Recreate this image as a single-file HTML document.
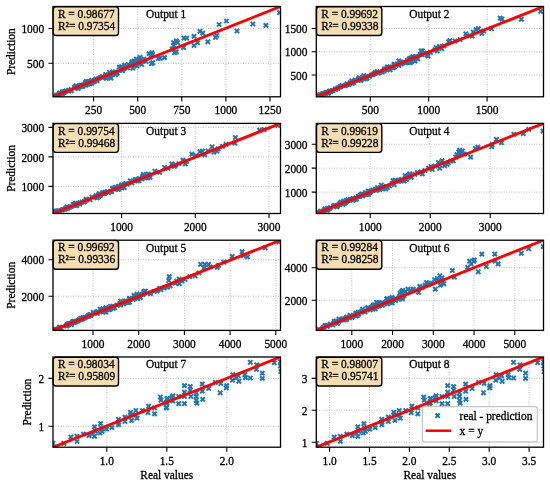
<!DOCTYPE html>
<html lang="en"><head><meta charset="utf-8"><title>Real vs prediction</title>
<style>html,body{margin:0;padding:0;background:#fff}body{width:550px;height:483px;overflow:hidden}svg{display:block}svg text{stroke:#000;stroke-width:0.28px}</style>
</head><body>
<svg width="550" height="483" viewBox="0 0 550 483" font-family="'Liberation Serif', 'Times New Roman', serif" font-size="11.4px" fill="#000">
<defs><g id="m"><path d="M-2.15-2.15L2.15 2.15M-2.15 2.15L2.15-2.15" stroke="#1f77b4" stroke-width="2.0" stroke-linecap="butt" fill="none"/></g>
<clipPath id="c0"><rect x="53.0" y="6.5" width="227.5" height="90.3"/></clipPath>
<clipPath id="c1"><rect x="316.3" y="6.5" width="227.2" height="90.3"/></clipPath>
<clipPath id="c2"><rect x="53.0" y="123.4" width="227.5" height="90.1"/></clipPath>
<clipPath id="c3"><rect x="316.3" y="123.4" width="227.2" height="90.1"/></clipPath>
<clipPath id="c4"><rect x="53.0" y="240.2" width="227.5" height="90.19999999999999"/></clipPath>
<clipPath id="c5"><rect x="316.3" y="240.2" width="227.2" height="90.19999999999999"/></clipPath>
<clipPath id="c6"><rect x="53.0" y="357.0" width="227.5" height="90.19999999999999"/></clipPath>
<clipPath id="c7"><rect x="316.3" y="357.0" width="227.2" height="90.19999999999999"/></clipPath>
</defs>
<rect width="550" height="483" fill="#fff"/>
<g id="ax1">
<path d="M93.60 6.5V96.8M137.70 6.5V96.8M181.80 6.5V96.8M225.90 6.5V96.8M270.00 6.5V96.8M53.0 28.55H280.5M53.0 63.30H280.5" stroke="#b4b4b4" stroke-width="0.9" stroke-dasharray="1 1.5" fill="none" clip-path="url(#c0)"/>
<g clip-path="url(#c0)"><use href="#m" x="59.6" y="93.2"/><use href="#m" x="85.1" y="84.6"/><use href="#m" x="86.3" y="81.6"/><use href="#m" x="77.2" y="87.9"/><use href="#m" x="56.6" y="95.2"/><use href="#m" x="95.4" y="80.1"/><use href="#m" x="96.1" y="79.1"/><use href="#m" x="87.9" y="83.9"/><use href="#m" x="62.3" y="93.3"/><use href="#m" x="68.8" y="91.0"/><use href="#m" x="81.5" y="86.2"/><use href="#m" x="96.5" y="79.3"/><use href="#m" x="78.3" y="88.3"/><use href="#m" x="60.3" y="93.2"/><use href="#m" x="82.5" y="85.2"/><use href="#m" x="71.0" y="89.7"/><use href="#m" x="88.2" y="82.1"/><use href="#m" x="91.3" y="81.3"/><use href="#m" x="94.6" y="80.4"/><use href="#m" x="82.0" y="86.5"/><use href="#m" x="94.1" y="81.7"/><use href="#m" x="97.1" y="80.6"/><use href="#m" x="80.7" y="85.4"/><use href="#m" x="76.1" y="86.0"/><use href="#m" x="66.2" y="90.8"/><use href="#m" x="68.6" y="90.1"/><use href="#m" x="91.9" y="80.4"/><use href="#m" x="87.6" y="84.1"/><use href="#m" x="90.0" y="83.6"/><use href="#m" x="64.5" y="91.6"/><use href="#m" x="91.6" y="83.3"/><use href="#m" x="87.9" y="81.9"/><use href="#m" x="76.4" y="86.2"/><use href="#m" x="59.7" y="94.2"/><use href="#m" x="83.8" y="85.0"/><use href="#m" x="87.3" y="82.6"/><use href="#m" x="85.1" y="84.3"/><use href="#m" x="80.1" y="86.3"/><use href="#m" x="63.0" y="92.5"/><use href="#m" x="82.6" y="86.5"/><use href="#m" x="87.1" y="82.3"/><use href="#m" x="53.6" y="96.4"/><use href="#m" x="58.2" y="95.0"/><use href="#m" x="85.8" y="85.2"/><use href="#m" x="62.5" y="91.8"/><use href="#m" x="71.2" y="90.9"/><use href="#m" x="85.5" y="82.6"/><use href="#m" x="74.7" y="87.2"/><use href="#m" x="77.8" y="86.8"/><use href="#m" x="89.3" y="81.6"/><use href="#m" x="92.7" y="81.9"/><use href="#m" x="64.3" y="92.4"/><use href="#m" x="57.3" y="95.6"/><use href="#m" x="58.6" y="95.2"/><use href="#m" x="56.0" y="96.1"/><use href="#m" x="77.6" y="86.7"/><use href="#m" x="74.6" y="87.7"/><use href="#m" x="61.8" y="93.9"/><use href="#m" x="79.4" y="86.3"/><use href="#m" x="62.5" y="93.4"/><use href="#m" x="115.4" y="74.6"/><use href="#m" x="138.7" y="61.2"/><use href="#m" x="114.9" y="72.0"/><use href="#m" x="106.3" y="78.5"/><use href="#m" x="139.4" y="60.8"/><use href="#m" x="109.6" y="75.3"/><use href="#m" x="111.0" y="78.1"/><use href="#m" x="121.4" y="66.9"/><use href="#m" x="108.0" y="75.7"/><use href="#m" x="110.7" y="73.9"/><use href="#m" x="124.8" y="65.0"/><use href="#m" x="132.1" y="61.8"/><use href="#m" x="112.9" y="72.0"/><use href="#m" x="128.3" y="64.5"/><use href="#m" x="106.0" y="76.1"/><use href="#m" x="123.8" y="68.6"/><use href="#m" x="112.9" y="73.4"/><use href="#m" x="135.0" y="62.8"/><use href="#m" x="98.6" y="78.5"/><use href="#m" x="119.3" y="67.1"/><use href="#m" x="105.6" y="74.5"/><use href="#m" x="107.2" y="76.6"/><use href="#m" x="105.1" y="77.4"/><use href="#m" x="109.6" y="72.3"/><use href="#m" x="124.1" y="67.7"/><use href="#m" x="122.4" y="68.3"/><use href="#m" x="122.4" y="70.7"/><use href="#m" x="133.8" y="66.1"/><use href="#m" x="122.2" y="69.7"/><use href="#m" x="117.3" y="73.4"/><use href="#m" x="127.5" y="67.9"/><use href="#m" x="100.4" y="77.4"/><use href="#m" x="116.6" y="72.8"/><use href="#m" x="102.8" y="77.1"/><use href="#m" x="102.1" y="76.8"/><use href="#m" x="121.7" y="68.8"/><use href="#m" x="219.1" y="24.5"/><use href="#m" x="226.4" y="21.0"/><use href="#m" x="252.8" y="24.0"/><use href="#m" x="265.9" y="25.4"/><use href="#m" x="237.0" y="31.0"/><use href="#m" x="279.6" y="12.6"/><use href="#m" x="200.0" y="31.3"/><use href="#m" x="202.7" y="33.1"/><use href="#m" x="194.0" y="36.4"/><use href="#m" x="215.5" y="37.3"/><use href="#m" x="216.9" y="35.5"/><use href="#m" x="207.8" y="41.8"/><use href="#m" x="197.6" y="42.7"/><use href="#m" x="194.0" y="45.5"/><use href="#m" x="184.0" y="38.2"/><use href="#m" x="186.7" y="38.2"/><use href="#m" x="183.6" y="47.6"/><use href="#m" x="173.6" y="42.7"/><use href="#m" x="176.4" y="40.9"/><use href="#m" x="177.6" y="42.7"/><use href="#m" x="173.6" y="45.5"/><use href="#m" x="172.2" y="49.1"/><use href="#m" x="174.5" y="52.7"/><use href="#m" x="176.4" y="51.8"/><use href="#m" x="164.5" y="57.6"/><use href="#m" x="160.0" y="58.2"/><use href="#m" x="158.2" y="58.5"/><use href="#m" x="149.1" y="53.6"/><use href="#m" x="151.8" y="52.7"/><use href="#m" x="150.9" y="55.5"/><use href="#m" x="152.7" y="54.5"/><use href="#m" x="152.7" y="62.7"/><use href="#m" x="151.5" y="63.6"/><use href="#m" x="140.0" y="57.3"/><use href="#m" x="136.4" y="59.1"/><use href="#m" x="141.8" y="64.5"/><use href="#m" x="139.1" y="63.6"/><use href="#m" x="131.8" y="62.7"/><use href="#m" x="132.7" y="68.2"/><use href="#m" x="130.0" y="65.5"/><use href="#m" x="144.0" y="59.0"/><use href="#m" x="146.0" y="61.5"/><use href="#m" x="134.0" y="61.0"/><use href="#m" x="137.0" y="66.0"/></g>
<path d="M53.0 96.8L280.5 6.5" stroke="#ff0000" stroke-width="2.9" fill="none" clip-path="url(#c0)"/>
<path d="M93.60 96.8v4.6M137.70 96.8v4.6M181.80 96.8v4.6M225.90 96.8v4.6M270.00 96.8v4.6M53.0 28.55h-4.6M53.0 63.30h-4.6" stroke="#000" stroke-width="1.1" fill="none"/>
<rect x="53.0" y="6.5" width="227.5" height="90.3" fill="none" stroke="#000" stroke-width="1.3"/>
<text transform="translate(93.60 114.20) scale(1 1.07)" text-anchor="middle">250</text>
<text transform="translate(137.70 114.20) scale(1 1.07)" text-anchor="middle">500</text>
<text transform="translate(181.80 114.20) scale(1 1.07)" text-anchor="middle">750</text>
<text transform="translate(225.90 114.20) scale(1 1.07)" text-anchor="middle">1000</text>
<text transform="translate(270.00 114.20) scale(1 1.07)" text-anchor="middle">1250</text>
<text transform="translate(44.20 33.15) scale(1 1.07)" text-anchor="end">1000</text>
<text transform="translate(44.20 67.90) scale(1 1.07)" text-anchor="end">500</text>
<text transform="translate(15.20 51.65) rotate(-90) scale(1 1.07)" text-anchor="middle">Prediction</text>
<text transform="translate(166.15 17.80) scale(1 1.07)" text-anchor="middle">Output 1</text>
<rect x="53.20" y="6.70" width="65.3" height="28.8" rx="2.8" fill="#f5deb3" stroke="#000" stroke-width="1.4"/>
<text transform="translate(57.90 17.70) scale(1 1.07)">R = 0.98677</text>
<text transform="translate(57.90 29.70) scale(1 1.07)">R²= 0.97354</text>
</g>
<g id="ax2">
<path d="M370.30 6.5V96.8M428.70 6.5V96.8M487.10 6.5V96.8M316.3 28.50H543.5M316.3 51.75H543.5M316.3 75.00H543.5" stroke="#b4b4b4" stroke-width="0.9" stroke-dasharray="1 1.5" fill="none" clip-path="url(#c1)"/>
<g clip-path="url(#c1)"><use href="#m" x="378.4" y="73.2"/><use href="#m" x="415.0" y="61.1"/><use href="#m" x="366.2" y="76.6"/><use href="#m" x="340.0" y="87.0"/><use href="#m" x="347.1" y="84.4"/><use href="#m" x="420.0" y="54.5"/><use href="#m" x="323.8" y="93.9"/><use href="#m" x="398.5" y="64.7"/><use href="#m" x="355.4" y="80.5"/><use href="#m" x="384.4" y="69.9"/><use href="#m" x="359.4" y="79.9"/><use href="#m" x="348.8" y="84.7"/><use href="#m" x="328.1" y="92.5"/><use href="#m" x="387.3" y="66.9"/><use href="#m" x="410.5" y="58.2"/><use href="#m" x="361.5" y="79.4"/><use href="#m" x="359.5" y="79.6"/><use href="#m" x="365.9" y="77.0"/><use href="#m" x="373.4" y="74.0"/><use href="#m" x="391.5" y="67.1"/><use href="#m" x="317.3" y="96.2"/><use href="#m" x="320.0" y="95.2"/><use href="#m" x="335.6" y="89.5"/><use href="#m" x="389.4" y="68.0"/><use href="#m" x="394.1" y="64.6"/><use href="#m" x="367.0" y="77.8"/><use href="#m" x="369.5" y="76.3"/><use href="#m" x="409.2" y="58.9"/><use href="#m" x="390.1" y="67.4"/><use href="#m" x="325.3" y="93.2"/><use href="#m" x="319.7" y="94.8"/><use href="#m" x="409.8" y="62.7"/><use href="#m" x="405.8" y="62.9"/><use href="#m" x="399.0" y="65.4"/><use href="#m" x="402.7" y="62.7"/><use href="#m" x="335.4" y="88.9"/><use href="#m" x="400.9" y="62.9"/><use href="#m" x="364.0" y="75.7"/><use href="#m" x="411.3" y="61.6"/><use href="#m" x="410.7" y="62.3"/><use href="#m" x="352.3" y="83.5"/><use href="#m" x="389.9" y="68.2"/><use href="#m" x="353.7" y="82.6"/><use href="#m" x="404.3" y="62.2"/><use href="#m" x="326.0" y="93.3"/><use href="#m" x="338.1" y="87.9"/><use href="#m" x="328.3" y="93.3"/><use href="#m" x="350.4" y="83.0"/><use href="#m" x="326.5" y="92.1"/><use href="#m" x="317.6" y="95.5"/><use href="#m" x="383.9" y="70.8"/><use href="#m" x="377.1" y="71.6"/><use href="#m" x="402.2" y="62.7"/><use href="#m" x="386.8" y="69.8"/><use href="#m" x="375.3" y="72.4"/><use href="#m" x="416.4" y="56.7"/><use href="#m" x="347.1" y="83.8"/><use href="#m" x="359.1" y="78.0"/><use href="#m" x="322.1" y="94.5"/><use href="#m" x="332.1" y="90.7"/><use href="#m" x="329.2" y="91.4"/><use href="#m" x="364.1" y="78.6"/><use href="#m" x="387.3" y="67.7"/><use href="#m" x="355.2" y="80.1"/><use href="#m" x="387.1" y="68.0"/><use href="#m" x="374.6" y="73.5"/><use href="#m" x="350.3" y="82.7"/><use href="#m" x="342.0" y="85.5"/><use href="#m" x="362.8" y="77.5"/><use href="#m" x="320.6" y="95.2"/><use href="#m" x="321.6" y="95.5"/><use href="#m" x="363.2" y="78.1"/><use href="#m" x="387.5" y="68.3"/><use href="#m" x="417.8" y="59.0"/><use href="#m" x="398.9" y="60.9"/><use href="#m" x="414.8" y="58.7"/><use href="#m" x="322.5" y="93.8"/><use href="#m" x="345.6" y="85.6"/><use href="#m" x="382.1" y="71.9"/><use href="#m" x="407.9" y="62.4"/><use href="#m" x="322.9" y="94.0"/><use href="#m" x="384.5" y="68.8"/><use href="#m" x="390.1" y="69.8"/><use href="#m" x="352.5" y="82.2"/><use href="#m" x="394.3" y="67.1"/><use href="#m" x="360.8" y="80.3"/><use href="#m" x="344.6" y="85.6"/><use href="#m" x="401.3" y="64.0"/><use href="#m" x="326.6" y="92.8"/><use href="#m" x="333.2" y="90.5"/><use href="#m" x="394.3" y="64.1"/><use href="#m" x="412.4" y="57.4"/><use href="#m" x="364.2" y="78.4"/><use href="#m" x="371.5" y="75.0"/><use href="#m" x="392.7" y="67.8"/><use href="#m" x="340.5" y="86.7"/><use href="#m" x="379.6" y="72.6"/><use href="#m" x="415.7" y="56.7"/><use href="#m" x="412.8" y="56.8"/><use href="#m" x="330.1" y="91.0"/><use href="#m" x="328.1" y="92.9"/><use href="#m" x="392.4" y="67.0"/><use href="#m" x="422.4" y="50.9"/><use href="#m" x="359.3" y="77.9"/><use href="#m" x="330.6" y="91.6"/><use href="#m" x="373.0" y="74.6"/><use href="#m" x="421.6" y="54.6"/><use href="#m" x="393.5" y="67.1"/><use href="#m" x="357.8" y="79.8"/><use href="#m" x="407.4" y="60.3"/><use href="#m" x="414.5" y="57.9"/><use href="#m" x="351.8" y="80.8"/><use href="#m" x="319.8" y="95.1"/><use href="#m" x="366.4" y="79.0"/><use href="#m" x="337.7" y="88.5"/><use href="#m" x="540.7" y="11.3"/><use href="#m" x="521.3" y="19.3"/><use href="#m" x="500.2" y="18.2"/><use href="#m" x="502.0" y="19.1"/><use href="#m" x="491.5" y="28.7"/><use href="#m" x="481.9" y="33.3"/><use href="#m" x="483.7" y="31.0"/><use href="#m" x="478.4" y="28.7"/><use href="#m" x="476.1" y="29.7"/><use href="#m" x="472.2" y="36.1"/><use href="#m" x="473.2" y="32.0"/><use href="#m" x="465.8" y="33.8"/><use href="#m" x="467.0" y="35.6"/><use href="#m" x="460.1" y="39.5"/><use href="#m" x="448.6" y="41.8"/><use href="#m" x="449.8" y="40.7"/><use href="#m" x="444.1" y="45.9"/><use href="#m" x="441.8" y="48.7"/><use href="#m" x="439.5" y="46.4"/><use href="#m" x="436.0" y="47.5"/><use href="#m" x="434.9" y="49.8"/><use href="#m" x="437.2" y="51.0"/><use href="#m" x="426.9" y="54.9"/><use href="#m" x="421.1" y="51.0"/><use href="#m" x="428.0" y="56.2"/><use href="#m" x="424.0" y="53.0"/><use href="#m" x="430.5" y="52.5"/><use href="#m" x="455.0" y="41.0"/></g>
<path d="M316.3 96.8L543.5 6.5" stroke="#ff0000" stroke-width="2.9" fill="none" clip-path="url(#c1)"/>
<path d="M370.30 96.8v4.6M428.70 96.8v4.6M487.10 96.8v4.6M316.3 28.50h-4.6M316.3 51.75h-4.6M316.3 75.00h-4.6" stroke="#000" stroke-width="1.1" fill="none"/>
<rect x="316.3" y="6.5" width="227.2" height="90.3" fill="none" stroke="#000" stroke-width="1.3"/>
<text transform="translate(370.30 114.20) scale(1 1.07)" text-anchor="middle">500</text>
<text transform="translate(428.70 114.20) scale(1 1.07)" text-anchor="middle">1000</text>
<text transform="translate(487.10 114.20) scale(1 1.07)" text-anchor="middle">1500</text>
<text transform="translate(307.50 33.10) scale(1 1.07)" text-anchor="end">1500</text>
<text transform="translate(307.50 56.35) scale(1 1.07)" text-anchor="end">1000</text>
<text transform="translate(307.50 79.60) scale(1 1.07)" text-anchor="end">500</text>
<text transform="translate(429.30 17.80) scale(1 1.07)" text-anchor="middle">Output 2</text>
<rect x="316.50" y="6.70" width="65.3" height="28.8" rx="2.8" fill="#f5deb3" stroke="#000" stroke-width="1.4"/>
<text transform="translate(321.20 17.70) scale(1 1.07)">R = 0.99692</text>
<text transform="translate(321.20 29.70) scale(1 1.07)">R²= 0.99338</text>
</g>
<g id="ax3">
<path d="M121.60 123.4V213.5M195.30 123.4V213.5M269.00 123.4V213.5M53.0 127.40H280.5M53.0 156.90H280.5M53.0 186.40H280.5" stroke="#b4b4b4" stroke-width="0.9" stroke-dasharray="1 1.5" fill="none" clip-path="url(#c2)"/>
<g clip-path="url(#c2)"><use href="#m" x="67.5" y="207.5"/><use href="#m" x="122.7" y="185.4"/><use href="#m" x="112.5" y="188.8"/><use href="#m" x="108.4" y="192.6"/><use href="#m" x="57.2" y="211.1"/><use href="#m" x="103.8" y="193.1"/><use href="#m" x="139.0" y="179.3"/><use href="#m" x="75.2" y="204.0"/><use href="#m" x="65.5" y="208.9"/><use href="#m" x="112.6" y="188.3"/><use href="#m" x="96.2" y="195.7"/><use href="#m" x="104.9" y="192.9"/><use href="#m" x="67.2" y="207.2"/><use href="#m" x="118.6" y="186.3"/><use href="#m" x="77.1" y="204.5"/><use href="#m" x="120.3" y="187.5"/><use href="#m" x="102.9" y="193.7"/><use href="#m" x="92.0" y="197.1"/><use href="#m" x="141.8" y="178.8"/><use href="#m" x="110.6" y="191.4"/><use href="#m" x="114.8" y="187.7"/><use href="#m" x="96.1" y="196.9"/><use href="#m" x="118.4" y="189.3"/><use href="#m" x="115.5" y="187.3"/><use href="#m" x="99.0" y="196.3"/><use href="#m" x="114.2" y="188.8"/><use href="#m" x="138.0" y="179.3"/><use href="#m" x="125.7" y="183.5"/><use href="#m" x="111.7" y="191.6"/><use href="#m" x="105.2" y="192.1"/><use href="#m" x="148.3" y="174.2"/><use href="#m" x="144.7" y="176.9"/><use href="#m" x="145.4" y="177.2"/><use href="#m" x="136.9" y="180.7"/><use href="#m" x="139.4" y="178.5"/><use href="#m" x="120.0" y="187.6"/><use href="#m" x="145.0" y="177.5"/><use href="#m" x="117.8" y="189.1"/><use href="#m" x="74.6" y="204.6"/><use href="#m" x="99.9" y="195.2"/><use href="#m" x="75.5" y="205.2"/><use href="#m" x="67.7" y="208.0"/><use href="#m" x="64.6" y="209.3"/><use href="#m" x="84.1" y="201.9"/><use href="#m" x="124.2" y="184.5"/><use href="#m" x="71.4" y="206.5"/><use href="#m" x="82.1" y="202.0"/><use href="#m" x="98.5" y="194.8"/><use href="#m" x="131.9" y="183.0"/><use href="#m" x="135.4" y="179.5"/><use href="#m" x="115.8" y="188.7"/><use href="#m" x="69.6" y="207.2"/><use href="#m" x="130.3" y="180.9"/><use href="#m" x="147.6" y="177.9"/><use href="#m" x="142.9" y="177.7"/><use href="#m" x="80.0" y="202.8"/><use href="#m" x="74.4" y="204.4"/><use href="#m" x="143.2" y="175.9"/><use href="#m" x="122.0" y="187.9"/><use href="#m" x="99.4" y="194.7"/><use href="#m" x="134.9" y="180.7"/><use href="#m" x="124.2" y="187.5"/><use href="#m" x="137.8" y="180.8"/><use href="#m" x="145.9" y="177.1"/><use href="#m" x="66.9" y="207.2"/><use href="#m" x="100.2" y="195.2"/><use href="#m" x="139.0" y="180.7"/><use href="#m" x="66.1" y="208.1"/><use href="#m" x="142.5" y="177.0"/><use href="#m" x="66.5" y="208.3"/><use href="#m" x="53.9" y="212.8"/><use href="#m" x="107.4" y="191.5"/><use href="#m" x="143.4" y="174.4"/><use href="#m" x="59.5" y="211.0"/><use href="#m" x="127.2" y="184.2"/><use href="#m" x="56.0" y="211.2"/><use href="#m" x="102.6" y="192.6"/><use href="#m" x="99.1" y="194.8"/><use href="#m" x="79.7" y="204.2"/><use href="#m" x="121.6" y="184.9"/><use href="#m" x="146.8" y="175.7"/><use href="#m" x="120.9" y="186.4"/><use href="#m" x="63.3" y="209.4"/><use href="#m" x="73.2" y="204.5"/><use href="#m" x="67.9" y="208.0"/><use href="#m" x="148.7" y="176.0"/><use href="#m" x="75.3" y="205.0"/><use href="#m" x="86.1" y="200.1"/><use href="#m" x="99.2" y="193.6"/><use href="#m" x="76.5" y="205.7"/><use href="#m" x="100.3" y="194.9"/><use href="#m" x="120.5" y="187.3"/><use href="#m" x="86.2" y="199.1"/><use href="#m" x="61.7" y="210.1"/><use href="#m" x="58.3" y="210.8"/><use href="#m" x="54.8" y="211.7"/><use href="#m" x="97.2" y="197.8"/><use href="#m" x="149.8" y="175.1"/><use href="#m" x="104.8" y="193.4"/><use href="#m" x="99.2" y="195.2"/><use href="#m" x="135.9" y="179.5"/><use href="#m" x="96.9" y="196.8"/><use href="#m" x="90.1" y="199.7"/><use href="#m" x="75.6" y="203.0"/><use href="#m" x="84.5" y="201.5"/><use href="#m" x="277.9" y="125.4"/><use href="#m" x="259.6" y="130.2"/><use href="#m" x="264.0" y="129.7"/><use href="#m" x="235.3" y="137.5"/><use href="#m" x="234.8" y="143.1"/><use href="#m" x="226.0" y="144.4"/><use href="#m" x="222.6" y="146.3"/><use href="#m" x="212.1" y="146.8"/><use href="#m" x="217.0" y="151.2"/><use href="#m" x="213.8" y="152.2"/><use href="#m" x="218.2" y="148.8"/><use href="#m" x="200.0" y="151.7"/><use href="#m" x="202.4" y="151.2"/><use href="#m" x="204.8" y="154.8"/><use href="#m" x="191.9" y="154.1"/><use href="#m" x="182.9" y="160.2"/><use href="#m" x="186.5" y="161.4"/><use href="#m" x="185.3" y="163.9"/><use href="#m" x="171.9" y="163.9"/><use href="#m" x="175.6" y="165.1"/><use href="#m" x="174.4" y="166.3"/><use href="#m" x="164.6" y="167.5"/><use href="#m" x="154.9" y="171.2"/><use href="#m" x="159.7" y="172.4"/><use href="#m" x="150.0" y="177.3"/><use href="#m" x="168.0" y="168.5"/><use href="#m" x="179.0" y="163.5"/><use href="#m" x="196.0" y="155.5"/><use href="#m" x="208.0" y="151.0"/></g>
<path d="M53.0 213.5L280.5 123.4" stroke="#ff0000" stroke-width="2.9" fill="none" clip-path="url(#c2)"/>
<path d="M121.60 213.5v4.6M195.30 213.5v4.6M269.00 213.5v4.6M53.0 127.40h-4.6M53.0 156.90h-4.6M53.0 186.40h-4.6" stroke="#000" stroke-width="1.1" fill="none"/>
<rect x="53.0" y="123.4" width="227.5" height="90.1" fill="none" stroke="#000" stroke-width="1.3"/>
<text transform="translate(121.60 230.90) scale(1 1.07)" text-anchor="middle">1000</text>
<text transform="translate(195.30 230.90) scale(1 1.07)" text-anchor="middle">2000</text>
<text transform="translate(269.00 230.90) scale(1 1.07)" text-anchor="middle">3000</text>
<text transform="translate(44.20 132.00) scale(1 1.07)" text-anchor="end">3000</text>
<text transform="translate(44.20 161.50) scale(1 1.07)" text-anchor="end">2000</text>
<text transform="translate(44.20 191.00) scale(1 1.07)" text-anchor="end">1000</text>
<text transform="translate(15.20 168.45) rotate(-90) scale(1 1.07)" text-anchor="middle">Prediction</text>
<text transform="translate(166.15 134.70) scale(1 1.07)" text-anchor="middle">Output 3</text>
<rect x="53.20" y="123.60" width="65.3" height="28.8" rx="2.8" fill="#f5deb3" stroke="#000" stroke-width="1.4"/>
<text transform="translate(57.90 134.60) scale(1 1.07)">R = 0.99754</text>
<text transform="translate(57.90 146.60) scale(1 1.07)">R²= 0.99468</text>
</g>
<g id="ax4">
<path d="M370.20 123.4V213.5M430.20 123.4V213.5M490.20 123.4V213.5M316.3 144.20H543.5M316.3 168.15H543.5M316.3 192.10H543.5" stroke="#b4b4b4" stroke-width="0.9" stroke-dasharray="1 1.5" fill="none" clip-path="url(#c3)"/>
<g clip-path="url(#c3)"><use href="#m" x="409.7" y="173.9"/><use href="#m" x="386.4" y="186.3"/><use href="#m" x="336.8" y="206.2"/><use href="#m" x="327.9" y="209.3"/><use href="#m" x="352.8" y="200.5"/><use href="#m" x="327.6" y="208.2"/><use href="#m" x="324.1" y="210.6"/><use href="#m" x="318.7" y="213.5"/><use href="#m" x="337.8" y="205.3"/><use href="#m" x="366.2" y="194.1"/><use href="#m" x="333.8" y="205.6"/><use href="#m" x="385.3" y="187.3"/><use href="#m" x="355.9" y="198.1"/><use href="#m" x="395.2" y="180.3"/><use href="#m" x="340.0" y="203.4"/><use href="#m" x="406.6" y="179.3"/><use href="#m" x="375.3" y="189.2"/><use href="#m" x="343.1" y="203.0"/><use href="#m" x="336.9" y="206.8"/><use href="#m" x="401.7" y="179.4"/><use href="#m" x="366.7" y="193.3"/><use href="#m" x="362.3" y="194.4"/><use href="#m" x="330.2" y="207.6"/><use href="#m" x="325.8" y="209.9"/><use href="#m" x="404.0" y="181.1"/><use href="#m" x="383.1" y="188.4"/><use href="#m" x="324.9" y="208.9"/><use href="#m" x="410.5" y="176.7"/><use href="#m" x="370.1" y="192.4"/><use href="#m" x="344.1" y="201.2"/><use href="#m" x="368.8" y="191.8"/><use href="#m" x="394.5" y="181.7"/><use href="#m" x="358.7" y="196.7"/><use href="#m" x="358.8" y="196.3"/><use href="#m" x="320.5" y="211.2"/><use href="#m" x="368.2" y="191.1"/><use href="#m" x="370.3" y="191.5"/><use href="#m" x="353.2" y="198.4"/><use href="#m" x="371.5" y="190.9"/><use href="#m" x="361.9" y="194.6"/><use href="#m" x="347.9" y="199.8"/><use href="#m" x="347.6" y="200.7"/><use href="#m" x="381.7" y="188.5"/><use href="#m" x="409.9" y="174.7"/><use href="#m" x="345.8" y="202.3"/><use href="#m" x="351.0" y="199.5"/><use href="#m" x="394.2" y="184.6"/><use href="#m" x="399.4" y="181.0"/><use href="#m" x="406.4" y="177.2"/><use href="#m" x="348.0" y="200.2"/><use href="#m" x="376.5" y="189.9"/><use href="#m" x="400.4" y="180.3"/><use href="#m" x="376.1" y="190.5"/><use href="#m" x="343.9" y="203.3"/><use href="#m" x="399.3" y="180.0"/><use href="#m" x="387.3" y="187.5"/><use href="#m" x="346.7" y="201.4"/><use href="#m" x="354.4" y="199.5"/><use href="#m" x="373.0" y="190.0"/><use href="#m" x="356.4" y="199.1"/><use href="#m" x="329.3" y="208.6"/><use href="#m" x="381.3" y="185.0"/><use href="#m" x="368.5" y="194.6"/><use href="#m" x="317.2" y="212.4"/><use href="#m" x="362.8" y="196.0"/><use href="#m" x="339.4" y="204.4"/><use href="#m" x="360.3" y="195.1"/><use href="#m" x="341.2" y="202.2"/><use href="#m" x="317.4" y="213.9"/><use href="#m" x="368.8" y="192.7"/><use href="#m" x="327.0" y="210.5"/><use href="#m" x="366.8" y="194.3"/><use href="#m" x="398.4" y="181.5"/><use href="#m" x="393.1" y="180.7"/><use href="#m" x="340.5" y="203.9"/><use href="#m" x="389.6" y="186.0"/><use href="#m" x="392.1" y="183.5"/><use href="#m" x="361.8" y="194.1"/><use href="#m" x="334.8" y="205.6"/><use href="#m" x="365.4" y="192.7"/><use href="#m" x="385.7" y="189.0"/><use href="#m" x="326.5" y="209.3"/><use href="#m" x="343.7" y="201.7"/><use href="#m" x="343.4" y="201.9"/><use href="#m" x="405.1" y="175.6"/><use href="#m" x="321.3" y="211.7"/><use href="#m" x="342.9" y="204.3"/><use href="#m" x="366.1" y="194.0"/><use href="#m" x="407.2" y="176.3"/><use href="#m" x="350.3" y="199.5"/><use href="#m" x="352.1" y="199.4"/><use href="#m" x="378.3" y="189.5"/><use href="#m" x="346.2" y="200.4"/><use href="#m" x="342.5" y="203.5"/><use href="#m" x="358.3" y="196.5"/><use href="#m" x="379.9" y="189.3"/><use href="#m" x="325.7" y="209.5"/><use href="#m" x="380.2" y="188.5"/><use href="#m" x="344.7" y="203.1"/><use href="#m" x="379.5" y="188.1"/><use href="#m" x="366.3" y="194.4"/><use href="#m" x="377.5" y="187.5"/><use href="#m" x="319.4" y="212.8"/><use href="#m" x="355.6" y="199.2"/><use href="#m" x="409.4" y="174.5"/><use href="#m" x="543.0" y="131.1"/><use href="#m" x="528.7" y="129.4"/><use href="#m" x="523.3" y="133.6"/><use href="#m" x="513.9" y="134.3"/><use href="#m" x="496.5" y="139.3"/><use href="#m" x="501.5" y="142.7"/><use href="#m" x="491.6" y="146.7"/><use href="#m" x="492.1" y="144.7"/><use href="#m" x="478.0" y="147.2"/><use href="#m" x="475.5" y="148.4"/><use href="#m" x="470.6" y="157.1"/><use href="#m" x="459.5" y="150.2"/><use href="#m" x="462.4" y="150.9"/><use href="#m" x="460.7" y="153.4"/><use href="#m" x="457.0" y="154.6"/><use href="#m" x="464.4" y="154.1"/><use href="#m" x="458.7" y="152.0"/><use href="#m" x="455.7" y="157.1"/><use href="#m" x="453.3" y="160.8"/><use href="#m" x="447.1" y="164.5"/><use href="#m" x="444.6" y="165.7"/><use href="#m" x="448.3" y="162.5"/><use href="#m" x="442.1" y="160.8"/><use href="#m" x="438.4" y="162.5"/><use href="#m" x="439.7" y="168.2"/><use href="#m" x="431.0" y="166.5"/><use href="#m" x="432.3" y="169.5"/><use href="#m" x="428.5" y="168.2"/><use href="#m" x="421.1" y="171.9"/><use href="#m" x="422.4" y="173.9"/><use href="#m" x="414.9" y="174.4"/><use href="#m" x="411.2" y="177.4"/><use href="#m" x="417.4" y="172.7"/><use href="#m" x="425.0" y="170.5"/><use href="#m" x="435.0" y="166.0"/><use href="#m" x="451.0" y="161.0"/></g>
<path d="M316.3 213.5L543.5 123.4" stroke="#ff0000" stroke-width="2.9" fill="none" clip-path="url(#c3)"/>
<path d="M370.20 213.5v4.6M430.20 213.5v4.6M490.20 213.5v4.6M316.3 144.20h-4.6M316.3 168.15h-4.6M316.3 192.10h-4.6" stroke="#000" stroke-width="1.1" fill="none"/>
<rect x="316.3" y="123.4" width="227.2" height="90.1" fill="none" stroke="#000" stroke-width="1.3"/>
<text transform="translate(370.20 230.90) scale(1 1.07)" text-anchor="middle">1000</text>
<text transform="translate(430.20 230.90) scale(1 1.07)" text-anchor="middle">2000</text>
<text transform="translate(490.20 230.90) scale(1 1.07)" text-anchor="middle">3000</text>
<text transform="translate(307.50 148.80) scale(1 1.07)" text-anchor="end">3000</text>
<text transform="translate(307.50 172.75) scale(1 1.07)" text-anchor="end">2000</text>
<text transform="translate(307.50 196.70) scale(1 1.07)" text-anchor="end">1000</text>
<text transform="translate(429.30 134.70) scale(1 1.07)" text-anchor="middle">Output 4</text>
<rect x="316.50" y="123.60" width="65.3" height="28.8" rx="2.8" fill="#f5deb3" stroke="#000" stroke-width="1.4"/>
<text transform="translate(321.20 134.60) scale(1 1.07)">R = 0.99619</text>
<text transform="translate(321.20 146.60) scale(1 1.07)">R²= 0.99228</text>
</g>
<g id="ax5">
<path d="M93.00 240.2V330.4M138.70 240.2V330.4M184.40 240.2V330.4M230.10 240.2V330.4M275.80 240.2V330.4M53.0 259.70H280.5M53.0 296.20H280.5" stroke="#b4b4b4" stroke-width="0.9" stroke-dasharray="1 1.5" fill="none" clip-path="url(#c4)"/>
<g clip-path="url(#c4)"><use href="#m" x="140.4" y="297.6"/><use href="#m" x="73.7" y="321.3"/><use href="#m" x="83.1" y="318.1"/><use href="#m" x="54.5" y="329.0"/><use href="#m" x="68.2" y="324.6"/><use href="#m" x="112.6" y="306.4"/><use href="#m" x="83.0" y="317.5"/><use href="#m" x="105.9" y="307.6"/><use href="#m" x="88.6" y="315.7"/><use href="#m" x="110.2" y="309.3"/><use href="#m" x="90.3" y="314.5"/><use href="#m" x="76.5" y="321.3"/><use href="#m" x="69.4" y="323.6"/><use href="#m" x="107.4" y="308.6"/><use href="#m" x="126.0" y="302.0"/><use href="#m" x="90.7" y="314.8"/><use href="#m" x="137.0" y="294.2"/><use href="#m" x="71.2" y="324.7"/><use href="#m" x="129.5" y="302.2"/><use href="#m" x="126.3" y="301.9"/><use href="#m" x="102.8" y="309.0"/><use href="#m" x="143.7" y="291.7"/><use href="#m" x="69.3" y="323.7"/><use href="#m" x="87.4" y="316.7"/><use href="#m" x="66.2" y="325.6"/><use href="#m" x="60.7" y="328.0"/><use href="#m" x="67.0" y="326.0"/><use href="#m" x="75.2" y="321.7"/><use href="#m" x="59.6" y="327.2"/><use href="#m" x="110.4" y="306.3"/><use href="#m" x="102.8" y="308.9"/><use href="#m" x="81.2" y="318.9"/><use href="#m" x="129.7" y="299.0"/><use href="#m" x="134.0" y="295.4"/><use href="#m" x="129.4" y="298.3"/><use href="#m" x="119.8" y="303.7"/><use href="#m" x="105.7" y="312.1"/><use href="#m" x="71.1" y="323.5"/><use href="#m" x="97.1" y="312.5"/><use href="#m" x="105.6" y="309.7"/><use href="#m" x="106.7" y="309.7"/><use href="#m" x="80.9" y="318.3"/><use href="#m" x="104.4" y="311.6"/><use href="#m" x="129.8" y="299.4"/><use href="#m" x="54.0" y="329.9"/><use href="#m" x="67.8" y="324.1"/><use href="#m" x="83.1" y="318.6"/><use href="#m" x="72.2" y="323.1"/><use href="#m" x="74.0" y="322.1"/><use href="#m" x="60.6" y="328.4"/><use href="#m" x="71.2" y="324.0"/><use href="#m" x="73.8" y="322.4"/><use href="#m" x="101.3" y="311.3"/><use href="#m" x="97.4" y="313.5"/><use href="#m" x="59.5" y="328.3"/><use href="#m" x="89.0" y="315.3"/><use href="#m" x="103.0" y="311.8"/><use href="#m" x="88.9" y="315.8"/><use href="#m" x="72.7" y="321.7"/><use href="#m" x="108.8" y="309.7"/><use href="#m" x="78.1" y="320.8"/><use href="#m" x="85.4" y="317.3"/><use href="#m" x="123.6" y="303.8"/><use href="#m" x="54.0" y="329.7"/><use href="#m" x="104.0" y="309.9"/><use href="#m" x="84.7" y="317.9"/><use href="#m" x="133.3" y="299.5"/><use href="#m" x="68.2" y="324.5"/><use href="#m" x="125.6" y="300.8"/><use href="#m" x="114.4" y="307.9"/><use href="#m" x="54.1" y="329.7"/><use href="#m" x="125.8" y="301.8"/><use href="#m" x="97.5" y="311.4"/><use href="#m" x="127.8" y="302.7"/><use href="#m" x="59.2" y="328.3"/><use href="#m" x="81.5" y="319.5"/><use href="#m" x="93.1" y="312.3"/><use href="#m" x="114.1" y="307.7"/><use href="#m" x="140.5" y="294.8"/><use href="#m" x="104.7" y="309.3"/><use href="#m" x="67.6" y="324.3"/><use href="#m" x="137.7" y="296.4"/><use href="#m" x="80.6" y="319.9"/><use href="#m" x="71.9" y="322.6"/><use href="#m" x="75.4" y="322.2"/><use href="#m" x="120.8" y="301.2"/><use href="#m" x="105.3" y="310.2"/><use href="#m" x="56.0" y="329.5"/><use href="#m" x="137.7" y="298.6"/><use href="#m" x="53.1" y="330.9"/><use href="#m" x="78.9" y="319.7"/><use href="#m" x="59.3" y="327.7"/><use href="#m" x="134.5" y="298.0"/><use href="#m" x="117.1" y="305.1"/><use href="#m" x="143.0" y="294.3"/><use href="#m" x="91.0" y="315.3"/><use href="#m" x="108.4" y="308.5"/><use href="#m" x="120.5" y="305.1"/><use href="#m" x="112.8" y="308.2"/><use href="#m" x="100.2" y="309.3"/><use href="#m" x="278.8" y="241.8"/><use href="#m" x="265.2" y="247.8"/><use href="#m" x="242.1" y="251.7"/><use href="#m" x="243.4" y="255.6"/><use href="#m" x="247.4" y="256.9"/><use href="#m" x="232.2" y="256.4"/><use href="#m" x="223.8" y="262.2"/><use href="#m" x="218.6" y="265.3"/><use href="#m" x="217.2" y="267.4"/><use href="#m" x="200.7" y="264.3"/><use href="#m" x="204.9" y="264.3"/><use href="#m" x="208.6" y="264.3"/><use href="#m" x="204.1" y="267.9"/><use href="#m" x="210.2" y="266.9"/><use href="#m" x="195.0" y="275.8"/><use href="#m" x="189.8" y="276.6"/><use href="#m" x="169.3" y="276.6"/><use href="#m" x="168.8" y="280.5"/><use href="#m" x="179.3" y="279.2"/><use href="#m" x="176.7" y="281.0"/><use href="#m" x="179.3" y="283.7"/><use href="#m" x="175.3" y="283.1"/><use href="#m" x="181.9" y="281.0"/><use href="#m" x="170.1" y="285.8"/><use href="#m" x="167.5" y="287.1"/><use href="#m" x="160.9" y="289.7"/><use href="#m" x="157.0" y="291.0"/><use href="#m" x="159.6" y="288.4"/><use href="#m" x="150.5" y="293.6"/><use href="#m" x="145.2" y="291.0"/><use href="#m" x="142.6" y="294.1"/><use href="#m" x="147.5" y="293.0"/><use href="#m" x="154.0" y="291.5"/><use href="#m" x="164.0" y="288.0"/><use href="#m" x="185.0" y="279.5"/><use href="#m" x="199.0" y="273.0"/></g>
<path d="M53.0 330.4L280.5 240.2" stroke="#ff0000" stroke-width="2.9" fill="none" clip-path="url(#c4)"/>
<path d="M93.00 330.4v4.6M138.70 330.4v4.6M184.40 330.4v4.6M230.10 330.4v4.6M275.80 330.4v4.6M53.0 259.70h-4.6M53.0 296.20h-4.6" stroke="#000" stroke-width="1.1" fill="none"/>
<rect x="53.0" y="240.2" width="227.5" height="90.19999999999999" fill="none" stroke="#000" stroke-width="1.3"/>
<text transform="translate(93.00 347.80) scale(1 1.07)" text-anchor="middle">1000</text>
<text transform="translate(138.70 347.80) scale(1 1.07)" text-anchor="middle">2000</text>
<text transform="translate(184.40 347.80) scale(1 1.07)" text-anchor="middle">3000</text>
<text transform="translate(230.10 347.80) scale(1 1.07)" text-anchor="middle">4000</text>
<text transform="translate(275.80 347.80) scale(1 1.07)" text-anchor="middle">5000</text>
<text transform="translate(44.20 264.30) scale(1 1.07)" text-anchor="end">4000</text>
<text transform="translate(44.20 300.80) scale(1 1.07)" text-anchor="end">2000</text>
<text transform="translate(15.20 285.30) rotate(-90) scale(1 1.07)" text-anchor="middle">Prediction</text>
<text transform="translate(166.15 251.50) scale(1 1.07)" text-anchor="middle">Output 5</text>
<rect x="53.20" y="240.40" width="65.3" height="28.8" rx="2.8" fill="#f5deb3" stroke="#000" stroke-width="1.4"/>
<text transform="translate(57.90 251.40) scale(1 1.07)">R = 0.99692</text>
<text transform="translate(57.90 263.40) scale(1 1.07)">R²= 0.99336</text>
</g>
<g id="ax6">
<path d="M351.80 240.2V330.4M392.55 240.2V330.4M433.30 240.2V330.4M474.05 240.2V330.4M514.80 240.2V330.4M316.3 267.70H543.5M316.3 300.30H543.5" stroke="#b4b4b4" stroke-width="0.9" stroke-dasharray="1 1.5" fill="none" clip-path="url(#c5)"/>
<g clip-path="url(#c5)"><use href="#m" x="392.1" y="297.4"/><use href="#m" x="398.5" y="299.2"/><use href="#m" x="343.3" y="319.4"/><use href="#m" x="330.4" y="324.0"/><use href="#m" x="346.4" y="318.0"/><use href="#m" x="373.2" y="306.2"/><use href="#m" x="346.6" y="318.4"/><use href="#m" x="349.7" y="317.6"/><use href="#m" x="356.0" y="315.9"/><use href="#m" x="335.9" y="321.1"/><use href="#m" x="401.6" y="291.6"/><use href="#m" x="386.8" y="298.7"/><use href="#m" x="361.7" y="311.7"/><use href="#m" x="402.6" y="299.0"/><use href="#m" x="370.2" y="310.0"/><use href="#m" x="382.4" y="305.1"/><use href="#m" x="392.3" y="302.9"/><use href="#m" x="379.9" y="303.6"/><use href="#m" x="350.2" y="315.3"/><use href="#m" x="382.0" y="303.0"/><use href="#m" x="370.4" y="308.9"/><use href="#m" x="367.2" y="308.0"/><use href="#m" x="399.5" y="297.2"/><use href="#m" x="376.6" y="302.3"/><use href="#m" x="327.0" y="325.5"/><use href="#m" x="339.0" y="321.4"/><use href="#m" x="327.3" y="326.4"/><use href="#m" x="383.9" y="303.7"/><use href="#m" x="391.2" y="301.8"/><use href="#m" x="317.5" y="329.8"/><use href="#m" x="332.8" y="325.0"/><use href="#m" x="343.9" y="319.7"/><use href="#m" x="378.8" y="302.8"/><use href="#m" x="389.8" y="300.8"/><use href="#m" x="373.0" y="308.8"/><use href="#m" x="347.0" y="318.4"/><use href="#m" x="400.6" y="295.5"/><use href="#m" x="395.9" y="298.9"/><use href="#m" x="352.0" y="317.3"/><use href="#m" x="395.7" y="299.3"/><use href="#m" x="358.8" y="314.1"/><use href="#m" x="345.6" y="319.9"/><use href="#m" x="337.5" y="323.3"/><use href="#m" x="336.6" y="322.5"/><use href="#m" x="326.7" y="325.5"/><use href="#m" x="402.4" y="297.2"/><use href="#m" x="334.5" y="322.4"/><use href="#m" x="390.7" y="298.8"/><use href="#m" x="358.4" y="312.2"/><use href="#m" x="362.5" y="309.2"/><use href="#m" x="357.0" y="314.3"/><use href="#m" x="376.1" y="305.8"/><use href="#m" x="382.0" y="302.9"/><use href="#m" x="380.8" y="303.6"/><use href="#m" x="389.6" y="301.9"/><use href="#m" x="373.5" y="305.0"/><use href="#m" x="346.5" y="317.6"/><use href="#m" x="371.9" y="308.2"/><use href="#m" x="345.6" y="318.6"/><use href="#m" x="339.0" y="320.5"/><use href="#m" x="323.7" y="327.2"/><use href="#m" x="387.5" y="303.9"/><use href="#m" x="395.5" y="300.4"/><use href="#m" x="364.9" y="310.8"/><use href="#m" x="346.5" y="319.3"/><use href="#m" x="343.3" y="318.8"/><use href="#m" x="388.0" y="299.1"/><use href="#m" x="357.5" y="313.9"/><use href="#m" x="357.3" y="315.6"/><use href="#m" x="342.4" y="319.9"/><use href="#m" x="355.2" y="315.0"/><use href="#m" x="322.4" y="328.5"/><use href="#m" x="318.9" y="329.6"/><use href="#m" x="375.2" y="309.0"/><use href="#m" x="378.6" y="306.1"/><use href="#m" x="379.8" y="305.1"/><use href="#m" x="380.6" y="303.3"/><use href="#m" x="349.1" y="317.0"/><use href="#m" x="398.2" y="298.6"/><use href="#m" x="346.7" y="317.0"/><use href="#m" x="368.2" y="307.7"/><use href="#m" x="389.9" y="299.2"/><use href="#m" x="365.0" y="312.0"/><use href="#m" x="376.6" y="306.9"/><use href="#m" x="325.1" y="325.5"/><use href="#m" x="372.2" y="306.8"/><use href="#m" x="374.5" y="304.9"/><use href="#m" x="401.5" y="295.6"/><use href="#m" x="340.6" y="320.0"/><use href="#m" x="360.7" y="312.2"/><use href="#m" x="373.5" y="305.4"/><use href="#m" x="339.0" y="319.2"/><use href="#m" x="334.3" y="322.6"/><use href="#m" x="395.1" y="299.2"/><use href="#m" x="334.3" y="321.3"/><use href="#m" x="351.6" y="316.6"/><use href="#m" x="355.9" y="313.2"/><use href="#m" x="344.0" y="319.4"/><use href="#m" x="388.6" y="301.2"/><use href="#m" x="386.0" y="301.8"/><use href="#m" x="543.3" y="246.6"/><use href="#m" x="528.7" y="248.7"/><use href="#m" x="521.3" y="253.3"/><use href="#m" x="494.8" y="254.1"/><use href="#m" x="495.0" y="261.2"/><use href="#m" x="498.2" y="263.9"/><use href="#m" x="481.8" y="254.1"/><use href="#m" x="486.3" y="266.5"/><use href="#m" x="478.3" y="271.8"/><use href="#m" x="469.6" y="261.2"/><use href="#m" x="473.8" y="261.2"/><use href="#m" x="471.1" y="263.9"/><use href="#m" x="467.7" y="267.3"/><use href="#m" x="474.3" y="259.9"/><use href="#m" x="452.3" y="270.5"/><use href="#m" x="454.4" y="277.1"/><use href="#m" x="439.8" y="275.8"/><use href="#m" x="441.9" y="277.9"/><use href="#m" x="437.2" y="278.5"/><use href="#m" x="438.5" y="280.6"/><use href="#m" x="442.5" y="281.1"/><use href="#m" x="434.5" y="279.8"/><use href="#m" x="443.8" y="283.8"/><use href="#m" x="440.4" y="285.1"/><use href="#m" x="435.3" y="289.1"/><use href="#m" x="426.5" y="282.5"/><use href="#m" x="429.2" y="283.8"/><use href="#m" x="425.2" y="285.1"/><use href="#m" x="419.9" y="286.4"/><use href="#m" x="415.9" y="290.4"/><use href="#m" x="418.6" y="292.3"/><use href="#m" x="413.3" y="289.1"/><use href="#m" x="410.6" y="290.4"/><use href="#m" x="408.0" y="289.1"/><use href="#m" x="405.3" y="291.7"/><use href="#m" x="402.7" y="290.4"/><use href="#m" x="404.0" y="295.7"/><use href="#m" x="400.0" y="293.1"/><use href="#m" x="422.0" y="287.5"/><use href="#m" x="431.5" y="283.0"/></g>
<path d="M316.3 330.4L543.5 240.2" stroke="#ff0000" stroke-width="2.9" fill="none" clip-path="url(#c5)"/>
<path d="M351.80 330.4v4.6M392.55 330.4v4.6M433.30 330.4v4.6M474.05 330.4v4.6M514.80 330.4v4.6M316.3 267.70h-4.6M316.3 300.30h-4.6" stroke="#000" stroke-width="1.1" fill="none"/>
<rect x="316.3" y="240.2" width="227.2" height="90.19999999999999" fill="none" stroke="#000" stroke-width="1.3"/>
<text transform="translate(351.80 347.80) scale(1 1.07)" text-anchor="middle">1000</text>
<text transform="translate(392.55 347.80) scale(1 1.07)" text-anchor="middle">2000</text>
<text transform="translate(433.30 347.80) scale(1 1.07)" text-anchor="middle">3000</text>
<text transform="translate(474.05 347.80) scale(1 1.07)" text-anchor="middle">4000</text>
<text transform="translate(514.80 347.80) scale(1 1.07)" text-anchor="middle">5000</text>
<text transform="translate(307.50 272.30) scale(1 1.07)" text-anchor="end">4000</text>
<text transform="translate(307.50 304.90) scale(1 1.07)" text-anchor="end">2000</text>
<text transform="translate(429.30 251.50) scale(1 1.07)" text-anchor="middle">Output 6</text>
<rect x="316.50" y="240.40" width="65.3" height="28.8" rx="2.8" fill="#f5deb3" stroke="#000" stroke-width="1.4"/>
<text transform="translate(321.20 251.40) scale(1 1.07)">R = 0.99284</text>
<text transform="translate(321.20 263.40) scale(1 1.07)">R²= 0.98258</text>
</g>
<g id="ax7">
<path d="M106.80 357.0V447.2M166.80 357.0V447.2M226.80 357.0V447.2M53.0 378.40H280.5M53.0 426.30H280.5" stroke="#b4b4b4" stroke-width="0.9" stroke-dasharray="1 1.5" fill="none" clip-path="url(#c6)"/>
<g clip-path="url(#c6)"><use href="#m" x="53.0" y="443.3"/><use href="#m" x="63.9" y="443.3"/><use href="#m" x="70.9" y="437.2"/><use href="#m" x="77.0" y="436.3"/><use href="#m" x="77.0" y="441.5"/><use href="#m" x="83.5" y="434.1"/><use href="#m" x="89.0" y="435.6"/><use href="#m" x="94.5" y="426.9"/><use href="#m" x="95.5" y="431.3"/><use href="#m" x="94.5" y="436.3"/><use href="#m" x="92.3" y="433.5"/><use href="#m" x="100.6" y="423.6"/><use href="#m" x="101.4" y="428.4"/><use href="#m" x="99.9" y="433.0"/><use href="#m" x="102.1" y="431.3"/><use href="#m" x="106.5" y="429.1"/><use href="#m" x="111.9" y="427.6"/><use href="#m" x="118.5" y="419.3"/><use href="#m" x="118.5" y="424.7"/><use href="#m" x="118.5" y="422.5"/><use href="#m" x="125.0" y="417.1"/><use href="#m" x="125.0" y="421.5"/><use href="#m" x="130.5" y="412.3"/><use href="#m" x="130.5" y="414.9"/><use href="#m" x="131.6" y="420.4"/><use href="#m" x="135.9" y="410.5"/><use href="#m" x="137.0" y="418.2"/><use href="#m" x="135.5" y="414.9"/><use href="#m" x="142.5" y="410.5"/><use href="#m" x="148.6" y="406.2"/><use href="#m" x="147.9" y="412.7"/><use href="#m" x="154.5" y="413.8"/><use href="#m" x="154.5" y="407.9"/><use href="#m" x="160.4" y="397.0"/><use href="#m" x="161.0" y="400.1"/><use href="#m" x="166.5" y="402.9"/><use href="#m" x="166.5" y="407.9"/><use href="#m" x="167.6" y="398.5"/><use href="#m" x="171.9" y="397.5"/><use href="#m" x="280.4" y="361.6"/><use href="#m" x="280.4" y="366.0"/><use href="#m" x="280.8" y="371.5"/><use href="#m" x="274.3" y="362.7"/><use href="#m" x="250.3" y="362.3"/><use href="#m" x="256.8" y="364.9"/><use href="#m" x="256.4" y="369.3"/><use href="#m" x="262.3" y="373.2"/><use href="#m" x="262.3" y="378.4"/><use href="#m" x="244.8" y="374.7"/><use href="#m" x="245.5" y="377.6"/><use href="#m" x="250.3" y="378.0"/><use href="#m" x="238.3" y="375.8"/><use href="#m" x="238.9" y="381.3"/><use href="#m" x="232.8" y="374.7"/><use href="#m" x="232.4" y="380.2"/><use href="#m" x="236.1" y="378.0"/><use href="#m" x="226.7" y="385.6"/><use href="#m" x="226.3" y="387.8"/><use href="#m" x="220.8" y="383.5"/><use href="#m" x="220.2" y="392.8"/><use href="#m" x="215.4" y="382.4"/><use href="#m" x="208.8" y="388.5"/><use href="#m" x="202.3" y="384.1"/><use href="#m" x="202.3" y="391.1"/><use href="#m" x="202.7" y="399.4"/><use href="#m" x="196.2" y="392.8"/><use href="#m" x="196.2" y="396.5"/><use href="#m" x="196.2" y="400.3"/><use href="#m" x="196.8" y="403.1"/><use href="#m" x="190.3" y="386.7"/><use href="#m" x="190.3" y="390.0"/><use href="#m" x="190.9" y="396.5"/><use href="#m" x="184.4" y="385.6"/><use href="#m" x="184.4" y="392.2"/><use href="#m" x="184.4" y="396.5"/><use href="#m" x="184.4" y="403.7"/><use href="#m" x="178.7" y="396.5"/><use href="#m" x="178.7" y="403.7"/><use href="#m" x="172.8" y="395.9"/><use href="#m" x="172.8" y="400.9"/><use href="#m" x="166.9" y="398.7"/><use href="#m" x="166.9" y="403.1"/><use href="#m" x="166.3" y="407.5"/></g>
<path d="M53.0 447.2L280.5 357.0" stroke="#ff0000" stroke-width="2.9" fill="none" clip-path="url(#c6)"/>
<path d="M106.80 447.2v4.6M166.80 447.2v4.6M226.80 447.2v4.6M53.0 378.40h-4.6M53.0 426.30h-4.6" stroke="#000" stroke-width="1.1" fill="none"/>
<rect x="53.0" y="357.0" width="227.5" height="90.19999999999999" fill="none" stroke="#000" stroke-width="1.3"/>
<text transform="translate(106.80 464.60) scale(1 1.07)" text-anchor="middle">1.0</text>
<text transform="translate(166.80 464.60) scale(1 1.07)" text-anchor="middle">1.5</text>
<text transform="translate(226.80 464.60) scale(1 1.07)" text-anchor="middle">2.0</text>
<text transform="translate(44.20 383.00) scale(1 1.07)" text-anchor="end">2</text>
<text transform="translate(44.20 430.90) scale(1 1.07)" text-anchor="end">1</text>
<text transform="translate(31.40 402.10) rotate(-90) scale(1 1.07)" text-anchor="middle">Prediction</text>
<text transform="translate(166.75 479.40) scale(1 1.07)" text-anchor="middle">Real values</text>
<text transform="translate(166.15 368.30) scale(1 1.07)" text-anchor="middle">Output 7</text>
<rect x="53.20" y="357.20" width="65.3" height="28.8" rx="2.8" fill="#f5deb3" stroke="#000" stroke-width="1.4"/>
<text transform="translate(57.90 368.20) scale(1 1.07)">R = 0.98034</text>
<text transform="translate(57.90 380.20) scale(1 1.07)">R²= 0.95809</text>
</g>
<g id="ax8">
<path d="M329.60 357.0V447.2M369.50 357.0V447.2M409.40 357.0V447.2M449.30 357.0V447.2M489.20 357.0V447.2M529.10 357.0V447.2M316.3 378.40H543.5M316.3 410.20H543.5M316.3 442.30H543.5" stroke="#b4b4b4" stroke-width="0.9" stroke-dasharray="1 1.5" fill="none" clip-path="url(#c7)"/>
<g clip-path="url(#c7)"><use href="#m" x="316.3" y="443.3"/><use href="#m" x="327.2" y="443.3"/><use href="#m" x="334.2" y="437.2"/><use href="#m" x="340.3" y="436.3"/><use href="#m" x="340.3" y="441.5"/><use href="#m" x="346.8" y="434.1"/><use href="#m" x="352.3" y="435.6"/><use href="#m" x="357.8" y="426.9"/><use href="#m" x="358.8" y="431.3"/><use href="#m" x="357.8" y="436.3"/><use href="#m" x="355.6" y="433.5"/><use href="#m" x="363.9" y="423.6"/><use href="#m" x="364.7" y="428.4"/><use href="#m" x="363.2" y="433.0"/><use href="#m" x="365.4" y="431.3"/><use href="#m" x="369.8" y="429.1"/><use href="#m" x="375.2" y="427.6"/><use href="#m" x="381.8" y="419.3"/><use href="#m" x="381.8" y="424.7"/><use href="#m" x="381.8" y="422.5"/><use href="#m" x="388.3" y="417.1"/><use href="#m" x="388.3" y="421.5"/><use href="#m" x="393.8" y="412.3"/><use href="#m" x="393.8" y="414.9"/><use href="#m" x="394.9" y="420.4"/><use href="#m" x="399.2" y="410.5"/><use href="#m" x="400.3" y="418.2"/><use href="#m" x="398.8" y="414.9"/><use href="#m" x="405.8" y="410.5"/><use href="#m" x="411.9" y="406.2"/><use href="#m" x="411.2" y="412.7"/><use href="#m" x="417.8" y="413.8"/><use href="#m" x="417.8" y="407.9"/><use href="#m" x="423.7" y="397.0"/><use href="#m" x="424.3" y="400.1"/><use href="#m" x="429.8" y="402.9"/><use href="#m" x="429.8" y="407.9"/><use href="#m" x="430.9" y="398.5"/><use href="#m" x="435.2" y="397.5"/><use href="#m" x="543.7" y="361.6"/><use href="#m" x="543.7" y="366.0"/><use href="#m" x="544.1" y="371.5"/><use href="#m" x="537.6" y="362.7"/><use href="#m" x="513.6" y="362.3"/><use href="#m" x="520.1" y="364.9"/><use href="#m" x="519.7" y="369.3"/><use href="#m" x="525.6" y="373.2"/><use href="#m" x="525.6" y="378.4"/><use href="#m" x="508.1" y="374.7"/><use href="#m" x="508.8" y="377.6"/><use href="#m" x="513.6" y="378.0"/><use href="#m" x="501.6" y="375.8"/><use href="#m" x="502.2" y="381.3"/><use href="#m" x="496.1" y="374.7"/><use href="#m" x="495.7" y="380.2"/><use href="#m" x="499.4" y="378.0"/><use href="#m" x="490.0" y="385.6"/><use href="#m" x="489.6" y="387.8"/><use href="#m" x="484.1" y="383.5"/><use href="#m" x="483.5" y="392.8"/><use href="#m" x="478.7" y="382.4"/><use href="#m" x="472.1" y="388.5"/><use href="#m" x="465.6" y="384.1"/><use href="#m" x="465.6" y="391.1"/><use href="#m" x="466.0" y="399.4"/><use href="#m" x="459.5" y="392.8"/><use href="#m" x="459.5" y="396.5"/><use href="#m" x="459.5" y="400.3"/><use href="#m" x="460.1" y="403.1"/><use href="#m" x="453.6" y="386.7"/><use href="#m" x="453.6" y="390.0"/><use href="#m" x="454.2" y="396.5"/><use href="#m" x="447.7" y="385.6"/><use href="#m" x="447.7" y="392.2"/><use href="#m" x="447.7" y="396.5"/><use href="#m" x="447.7" y="403.7"/><use href="#m" x="442.0" y="396.5"/><use href="#m" x="442.0" y="403.7"/><use href="#m" x="436.1" y="395.9"/><use href="#m" x="436.1" y="400.9"/><use href="#m" x="430.2" y="398.7"/><use href="#m" x="430.2" y="403.1"/><use href="#m" x="429.6" y="407.5"/></g>
<path d="M316.3 447.2L543.5 357.0" stroke="#ff0000" stroke-width="2.9" fill="none" clip-path="url(#c7)"/>
<path d="M329.60 447.2v4.6M369.50 447.2v4.6M409.40 447.2v4.6M449.30 447.2v4.6M489.20 447.2v4.6M529.10 447.2v4.6M316.3 378.40h-4.6M316.3 410.20h-4.6M316.3 442.30h-4.6" stroke="#000" stroke-width="1.1" fill="none"/>
<rect x="316.3" y="357.0" width="227.2" height="90.19999999999999" fill="none" stroke="#000" stroke-width="1.3"/>
<text transform="translate(329.60 464.60) scale(1 1.07)" text-anchor="middle">1.0</text>
<text transform="translate(369.50 464.60) scale(1 1.07)" text-anchor="middle">1.5</text>
<text transform="translate(409.40 464.60) scale(1 1.07)" text-anchor="middle">2.0</text>
<text transform="translate(449.30 464.60) scale(1 1.07)" text-anchor="middle">2.5</text>
<text transform="translate(489.20 464.60) scale(1 1.07)" text-anchor="middle">3.0</text>
<text transform="translate(529.10 464.60) scale(1 1.07)" text-anchor="middle">3.5</text>
<text transform="translate(307.50 383.00) scale(1 1.07)" text-anchor="end">3</text>
<text transform="translate(307.50 414.80) scale(1 1.07)" text-anchor="end">2</text>
<text transform="translate(307.50 446.90) scale(1 1.07)" text-anchor="end">1</text>
<text transform="translate(429.90 479.40) scale(1 1.07)" text-anchor="middle">Real values</text>
<text transform="translate(429.30 368.30) scale(1 1.07)" text-anchor="middle">Output 8</text>
<rect x="316.50" y="357.20" width="65.3" height="28.8" rx="2.8" fill="#f5deb3" stroke="#000" stroke-width="1.4"/>
<text transform="translate(321.20 368.20) scale(1 1.07)">R = 0.98007</text>
<text transform="translate(321.20 380.20) scale(1 1.07)">R²= 0.95741</text>
<rect x="422.4" y="406.6" width="115" height="35.2" rx="2.4" fill="#fff" fill-opacity="0.92" stroke="#c6c6c6" stroke-width="1.3"/>
<use href="#m" x="437.6" y="415.7"/>
<path d="M426.9 430.7H449.9" stroke="#ff0000" stroke-width="2.5" stroke-linecap="square" fill="none"/>
<text transform="translate(459.60 419.50) scale(1 1.07)">real - prediction</text>
<text transform="translate(459.60 434.60) scale(1 1.07)">x = y</text>
</g>
</svg>
</body></html>
